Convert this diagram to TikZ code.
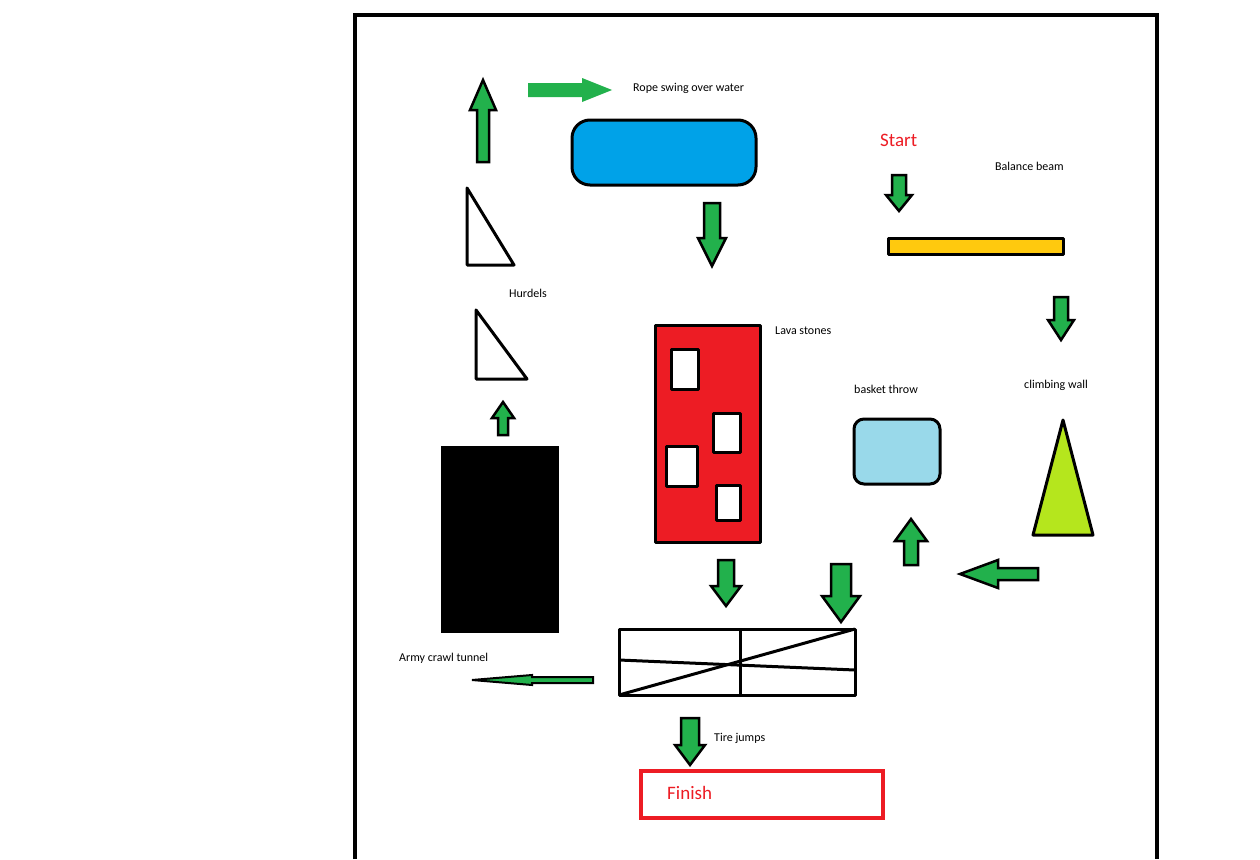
\documentclass[tikz,border=0pt]{standalone}
\usepackage{fontspec}
\setmainfont{Carlito}
\usetikzlibrary{calc}
\definecolor{agreen}{HTML}{22B14C}
\definecolor{mred}{HTML}{ED1C24}
\definecolor{mblue}{HTML}{00A2E8}
\definecolor{lblue}{HTML}{99D9EA}
\definecolor{morange}{HTML}{FFC90E}
\definecolor{lime}{HTML}{B5E61D}
\tikzset{
  outl/.style={draw=black,line width=3pt,line join=round},
  lbl/.style={anchor=west,font=\fontsize{12}{14}\selectfont,inner sep=0pt},
  redlbl/.style={anchor=west,text=mred,font=\fontsize{19}{22}\selectfont,inner sep=0pt},
  arrowfill/.style={fill=agreen,draw=black,line width=2.5pt,line join=miter}
}
\newcommand\barr[6][arrowfill]{%
  \coordinate (t) at #2; \coordinate (h) at #3;
  \coordinate (b) at ($(h)!#6!(t)$);
  \path[#1] ($(t)!#4!90:(h)$) -- ($(b)!#4!90:(h)$) -- ($(b)!#5!90:(h)$) -- (h)
     -- ($(b)!#5!-90:(h)$) -- ($(b)!#4!-90:(h)$) -- ($(t)!#4!-90:(h)$) -- cycle;}
\begin{document}
\begin{tikzpicture}[x=1pt,y=-1pt]
\useasboundingbox (0,0) rectangle (1260,859);
\fill[white] (0,0) rectangle (1260,859);
% frame
\draw[line width=4pt] (355,859) -- (355,15) -- (1157,15) -- (1157,859);
% hurdles & start
\barr{(483,162)}{(483,80)}{6pt}{13pt}{30pt}
\barr[fill=agreen]{(528,90)}{(612,90)}{7pt}{12pt}{30pt}
\node[lbl] (rope) at (633,88) {Rope swing over water};
\draw[outl,fill=mblue,rounded corners=18pt] (572,120) rectangle (756,185);
\barr{(712,203)}{(712,266)}{8pt}{14pt}{28pt}
\node[redlbl] (start) at (880,140) {Start};
\barr{(899,175)}{(899,211)}{7pt}{13pt}{16pt}
\node[lbl] (beam) at (995,166) {Balance beam};
\draw[outl,fill=morange] (888,238) rectangle (1063,254);
\barr{(1061,297)}{(1061,340)}{7pt}{13pt}{20pt}
\node[lbl] (wall) at (1024,385) {climbing wall};
\draw[outl,fill=lime] (1063,420) -- (1093,535) -- (1033,535) -- cycle;
\barr{(1038,574)}{(960,574)}{6pt}{14pt}{38pt}
\node[lbl] (basket) at (854,389) {basket throw};
\draw[outl,fill=lblue,rounded corners=10pt] (854,419) rectangle (940,484);
\barr{(911,565)}{(911,519)}{7pt}{16pt}{22pt}
% lava stones
\draw[outl,fill=mred] (655,325) rectangle (760,542);
\draw[outl,fill=white] (671,349) rectangle (698,389);
\draw[outl,fill=white] (713,413) rectangle (740,452);
\draw[outl,fill=white] (666,446) rectangle (697,486);
\draw[outl,fill=white] (716,485) rectangle (740,520);
\node[lbl] (lava) at (775,331) {Lava stones};
\barr{(726,560)}{(726,606)}{8pt}{15pt}{20pt}
\barr{(841,564)}{(841,622)}{10pt}{19pt}{26pt}
% tire jumps
\draw[outl] (619,629) rectangle (855,695);
\draw[outl] (740,629) -- (740,695);
\draw[outl] (619,695) -- (855,629);
\draw[outl] (619,660) -- (855,670);
\node[lbl] (army) at (399,658) {Army crawl tunnel};
\barr[fill=agreen,draw=black,line width=2pt]{(593,680)}{(472,680)}{3pt}{5pt}{60pt}
\barr{(690,718)}{(690,765)}{9pt}{15pt}{20pt}
\node[lbl] (tire) at (714,738) {Tire jumps};
\draw[draw=mred,line width=3.5pt] (641,771) rectangle (883,818);
\node[redlbl] (finish) at (667,793) {Finish};
% tunnel and hurdles
\fill[black] (441,446) rectangle (559,633);
\barr{(503,435)}{(503,402)}{5pt}{11pt}{16pt}
\draw[outl,fill=white] (467,188) -- (467,265) -- (514,265) -- cycle;
\draw[outl,fill=white] (476,310) -- (476,379) -- (527,379) -- cycle;
\node[lbl] (hurd) at (509,293) {Hurdels};
\end{tikzpicture}
\end{document}
